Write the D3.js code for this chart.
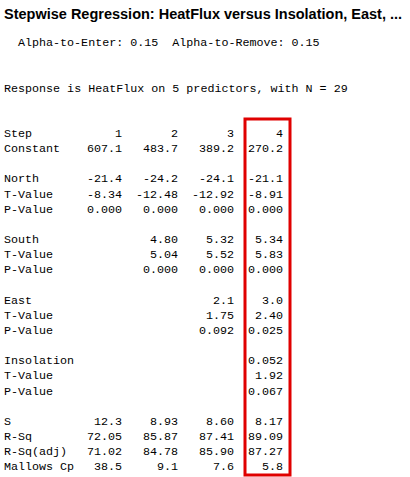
<!DOCTYPE html>
<html><head><meta charset="utf-8">
<script src="https://cdn.jsdelivr.net/npm/d3@7"></script>
<style>body{margin:0;background:#fff} text{white-space:pre}</style>
</head><body><svg id="c" width="410" height="477"></svg>
<script>
// Stepwise output rows: label, values per step (null = blank)
const steps = ["1", "2", "3", "4"];
const rows = [
  ["Step", steps],
  ["Constant", ["607.1", "483.7", "389.2", "270.2"]],
  null,
  ["North", ["-21.4", "-24.2", "-24.1", "-21.1"]],
  ["T-Value", ["-8.34", "-12.48", "-12.92", "-8.91"]],
  ["P-Value", ["0.000", "0.000", "0.000", "0.000"]],
  null,
  ["South", [null, "4.80", "5.32", "5.34"]],
  ["T-Value", [null, "5.04", "5.52", "5.83"]],
  ["P-Value", [null, "0.000", "0.000", "0.000"]],
  null,
  ["East", [null, null, "2.1", "3.0"]],
  ["T-Value", [null, null, "1.75", "2.40"]],
  ["P-Value", [null, null, "0.092", "0.025"]],
  null,
  ["Insolation", [null, null, null, "0.052"]],
  ["T-Value", [null, null, null, "1.92"]],
  ["P-Value", [null, null, null, "0.067"]],
  null,
  ["S", ["12.3", "8.93", "8.60", "8.17"]],
  ["R-Sq", ["72.05", "85.87", "87.41", "89.09"]],
  ["R-Sq(adj)", ["71.02", "84.78", "85.90", "87.27"]],
  ["Mallows Cp", ["38.5", "9.1", "7.6", "5.8"]]
];

const svg = d3.select("#c");
const mono = "'Liberation Mono','Courier New',monospace";
const lh = 15.15;
const y = d3.scaleLinear().domain([0, 1]).range([137, 137 + lh]);
const x = d3.scaleOrdinal().domain(steps).range([122, 178, 234, 283]);

svg.append("text").attr("x", 4).attr("y", 19)
  .attr("font-family", "Arial,'Liberation Sans',sans-serif")
  .attr("font-weight", "bold").attr("font-size", 14.5)
  .text("Stepwise Regression: HeatFlux versus Insolation, East, ...");

svg.append("text").attr("x", 18).attr("y", y(-6))
  .attr("font-family", mono).attr("font-size", 11.7)
  .text("Alpha-to-Enter: 0.15  Alpha-to-Remove: 0.15");

svg.append("text").attr("x", 4).attr("y", y(-3))
  .attr("font-family", mono).attr("font-size", 11.7)
  .text("Response is HeatFlux on 5 predictors, with N = 29");

rows.forEach((r, i) => {
  if (!r) return;
  const g = svg.append("g").attr("font-family", mono).attr("font-size", 11.7);
  g.append("text").attr("x", 4).attr("y", y(i)).text(r[0]);
  r[1].forEach((v, j) => {
    if (v === null) return;
    g.append("text").attr("x", x(steps[j])).attr("y", y(i))
      .attr("text-anchor", "end").text(v);
  });
});

// highlight box around step 4
svg.append("rect").attr("x", 245).attr("y", 119)
  .attr("width", 45).attr("height", 356)
  .attr("fill", "none").attr("stroke", "#e00000").attr("stroke-width", 3);
</script></body></html>
